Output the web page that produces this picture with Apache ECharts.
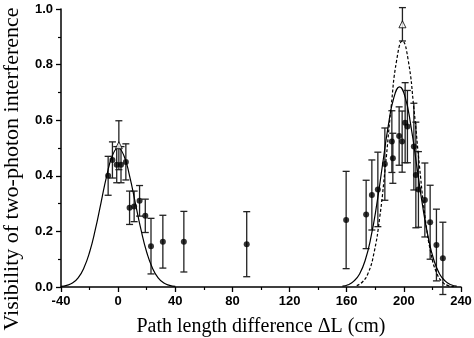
<!DOCTYPE html>
<html>
<head>
<meta charset="utf-8">
<script src="https://cdn.jsdelivr.net/npm/echarts@6/dist/echarts.min.js"></script>
<style>
  html, body { margin: 0; padding: 0; background: #fff; }
  #chart { width: 474px; height: 338px; }
</style>
</head>
<body>
<div id="chart"></div>
<script>
// measured points (filled circles)
const ptX = [-7, -4, -1, 2, 5.4, 8, 11.2, 15, 19, 23, 31.3, 46, 90,
  159.6, 173.6, 177.6, 181.8, 186.7, 191.6, 192.3, 196.7, 198.8, 200.9, 202.5,
  207, 208.4, 210.2, 214.7, 218.4, 222.8, 227.3]
const ptY = [0.40, 0.457, 0.44, 0.44, 0.45, 0.285, 0.29, 0.31, 0.256, 0.147, 0.163, 0.163, 0.154,
  0.241, 0.261, 0.331, 0.351, 0.442, 0.523, 0.463, 0.543, 0.523, 0.591, 0.577,
  0.505, 0.403, 0.351, 0.313, 0.233, 0.151, 0.103]
const ptErr = [0.07, 0.065, 0.065, 0.065, 0.065, 0.06, 0.055, 0.055, 0.06, 0.1, 0.095, 0.109, 0.117,
  0.175, 0.123, 0.126, 0.134, 0.13, 0.111, 0.09, 0.105, 0.11, 0.144, 0.13,
  0.156, 0.19, 0.136, 0.133, 0.133, 0.129, 0.13]

// open triangles
const triX = [0.5, 199]
const triY = [0.51, 0.945]
const triErr = [0.088, 0.06]

// fitted curves
const leftFitX = [-40, -36, -32, -28, -24, -20, -16, -12, -8, -4, 0, 4, 8, 12, 16, 20, 24, 28, 32, 36, 40]
const leftFitY = [0.002, 0.006, 0.014, 0.033, 0.068, 0.125, 0.206, 0.303, 0.400, 0.473, 0.50,
  0.473, 0.400, 0.303, 0.206, 0.125, 0.068, 0.033, 0.014, 0.006, 0.002]

const rightFitX = [157, 161, 165, 169, 173, 177, 181, 185, 189, 193, 197, 201, 205, 209, 213, 217, 221, 225, 229, 233, 237]
const rightFitY = [0.003, 0.008, 0.021, 0.047, 0.097, 0.180, 0.296, 0.437, 0.577, 0.681, 0.72,
  0.681, 0.577, 0.437, 0.296, 0.180, 0.097, 0.047, 0.021, 0.008, 0.003]

const dashFitX = [167, 171, 175, 179, 183, 187, 191, 195, 199, 203, 207, 211, 215, 219, 223, 227, 231, 235]
const dashFitY = [0.005, 0.018, 0.050, 0.120, 0.246, 0.431, 0.643, 0.817, 0.885,
  0.817, 0.643, 0.431, 0.246, 0.120, 0.050, 0.018, 0.005, 0.001]

const zip = (xs, ys) => xs.map((x, i) => [x, ys[i]])
const bars = (xs, ys, es) => xs.map((x, i) => [x, ys[i] - es[i], ys[i] + es[i]])

const renderErr = (params, api) => {
  const x = api.value(0)
  const top = api.coord([x, api.value(2)])
  const bot = api.coord([x, api.value(1)])
  const w = 3.5
  const st = { stroke: '#222', lineWidth: 1.3 }
  return {
    type: 'group',
    children: [
      { type: 'line', shape: { x1: top[0], y1: top[1], x2: bot[0], y2: bot[1] }, style: st },
      { type: 'line', shape: { x1: top[0] - w, y1: top[1], x2: top[0] + w, y2: top[1] }, style: st },
      { type: 'line', shape: { x1: bot[0] - w, y1: bot[1], x2: bot[0] + w, y2: bot[1] }, style: st }
    ]
  }
}

const chart = echarts.init(document.getElementById('chart'))

const axisCommon = {
  axisLine: { show: true, onZero: false, lineStyle: { color: '#000', width: 1.5 } },
  axisTick: { show: true, inside: false, length: 5, lineStyle: { color: '#000', width: 1.3 } },
  minorTick: { show: true, splitNumber: 2, length: 3, lineStyle: { color: '#000', width: 1.2 } },
  splitLine: { show: false },
  axisLabel: { color: '#000', fontFamily: 'Liberation Sans', fontWeight: 'bold', fontSize: 13 }
}

const option = {
  animation: false,
  grid: { left: 61, right: 13, top: 9, bottom: 51, outerBoundsMode: 'none' },
  xAxis: {
    type: 'value', min: -40, max: 240, interval: 40,
    ...axisCommon,
    axisLabel: { ...axisCommon.axisLabel, margin: 8 },
    name: 'Path length difference ΔL (cm)',
    nameLocation: 'middle', nameGap: 30,
    nameTextStyle: { color: '#000', fontFamily: 'Liberation Serif', fontSize: 20 }
  },
  yAxis: {
    type: 'value', min: 0, max: 1, interval: 0.2,
    ...axisCommon,
    axisLabel: { ...axisCommon.axisLabel, margin: 8, formatter: v => v.toFixed(1) },
    name: 'Visibility of two-photon interference',
    nameLocation: 'middle', nameGap: 38,
    nameTextStyle: { color: '#000', fontFamily: 'Liberation Serif', fontSize: 22, padding: [0, 42, 0, 0] }
  },
  series: [
    {
      type: 'line', data: zip(leftFitX, leftFitY), smooth: true, showSymbol: false,
      lineStyle: { color: '#000', width: 1.2 }
    },
    {
      type: 'line', data: zip(rightFitX, rightFitY), smooth: true, showSymbol: false,
      lineStyle: { color: '#000', width: 1.2 }
    },
    {
      type: 'line', data: zip(dashFitX, dashFitY), smooth: true, showSymbol: false,
      lineStyle: { color: '#000', width: 1.2, type: [3, 2] }
    },
    {
      type: 'custom', renderItem: renderErr, clip: false,
      data: bars(ptX, ptY, ptErr).concat(bars(triX, triY, triErr)), z: 3
    },
    {
      type: 'scatter', data: zip(ptX, ptY), symbol: 'circle', symbolSize: 6,
      itemStyle: { color: '#000' }, z: 4
    },
    {
      type: 'scatter', data: zip(triX, triY), symbol: 'triangle', symbolSize: 7,
      itemStyle: { color: '#fff', borderColor: '#000', borderWidth: 1 }, z: 5
    }
  ]
}

option && chart.setOption(option)
</script>
</body>
</html>
